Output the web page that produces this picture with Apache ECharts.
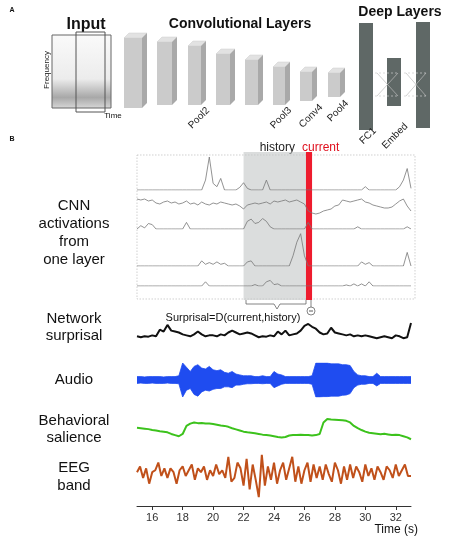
<!DOCTYPE html>
<html><head><meta charset="utf-8">
<script src="https://cdn.jsdelivr.net/npm/echarts@6/dist/echarts.min.js"></script>
<style>html,body{margin:0;padding:0;background:#fff}#c{width:474px;height:544px}</style>
</head><body><div id="c"></div>
<script>
// time grid: 15 .. 33 s, step 0.25 s
const T0 = 15, STEP = 0.25;
const tickLabels = [16,18,20,22,24,26,28,30,32];
const cnn1 = [0,0,0,0,0,0,0,0,0,0, 0,0,0,0,0,0,0,0,0.3,1.0, 0.2,0.1,0.35,0,0,0,0,0.08,0.22,0.05, 0,0,0,0,0.3,0,0,0,0,0, 0,0,0,0,0,0,0,0,0,0, 0,0,0,0,0,0,0,0,0,0, 0.1,0,0,0,0,0,0,0,0,0.1, 0.3,0.65,0.05];
const cnn2 = [0.85,0.8,0.85,0.75,0.8,0.65,0.6,0.7,0.75,0.65, 0.7,0.6,0.65,0.75,0.6,0.65,0.55,0.7,0.6,0.55, 0.65,0.6,0.7,0.65,0.6,0.55,0.6,0.5,0.35,0.55, 0.6,0.65,0.6,0.65,0.7,0.6,0.75,0.7,0.75,0.8, 0.7,0.75,0.8,0.7,0.6,0.25,0.15,0.1,0.15,0.25, 0.3,0.35,0.5,0.55,0.8,0.75,0.7,0.75,0.8,0.85, 0.7,0.65,0.55,0.5,0.45,0.4,0.4,0.45,0.6,0.75, 0.85,0.5,0.25];
const cnn3 = [0,0.3,0.1,0.5,0.4,0,0,0,0,0, 0,0,0,0.6,0,0,0,0,0,0, 0,0,0,0,0,0,0,0,0,0.7, 0.9,0.5,0.6,0.95,0.7,0.2,0,0,0,0, 0,0,0,0,0,0.6,0,0,0,0, 0,0,0,0,0,0,0,0,0.2,0, 0,0,0,0,0,0,0,0,0,0, 0,0.2,0];
const cnn4 = [0,0,0,0,0,0,0,0,0,0, 0,0,0,0,0,0,0,0.15,0.05,0.1, 0.05,0.12,0.05,0.08,0,0,0,0,0,0.12, 0.15,0,0,0,0,0,0,0,0,0, 0,0.3,0.7,0.95,0.3,0,0,0,0,0, 0,0,0,0,0,0,0,0,0,0.12, 0.05,0.1,0,0,0,0,0,0,0,0, 0,0.4,0];
const cnn5 = [0,0,0,0,0,0,0,0,0,0, 0,0,0,0,0,0,0,0,0.6,0, 0,0,0,0,0,0,0,0,0,0, 0,0.2,0,0,0.6,0.8,0.2,0.3,0,0, 0,0,0,0,0,0,0,0,0,0, 0,0,0,0,0,0.15,0,0.3,0,0.3, 0,0.6,0,0,0,0,0,0,0,0, 0,0,0];
const surprisal = [0.3,0.25,0.3,0.28,0.35,0.3,0.65,0.55,0.9,0.6, 0.55,0.5,0.4,0.35,0.3,0.4,0.55,0.4,0.3,0.35, 0.35,0.3,0.4,0.35,0.5,0.6,0.5,0.4,0.45,0.5, 0.45,0.35,0.25,0.3,0.28,0.35,0.3,0.55,0.4,0.6, 0.35,0.4,0.45,0.6,0.85,0.95,0.8,0.7,0.5,0.4, 0.45,0.75,0.5,0.45,0.4,0.35,0.4,0.3,0.35,0.3, 0.35,0.3,0.25,0.2,0.25,0.3,0.25,0.2,0.35,0.3, 0.2,0.25,1.0];
const audioUp = [0.2,0.2,0.18,0.2,0.2,0.2,0.2,0.18,0.2,0.2, 0.2,0.25,1.0,0.75,0.5,0.8,0.9,0.7,0.65,0.8, 0.6,0.55,0.6,0.45,0.4,0.5,0.35,0.3,0.25,0.25, 0.25,0.2,0.2,0.25,0.2,0.2,0.5,0.35,0.3,0.2, 0.2,0.2,0.2,0.2,0.2,0.2,0.25,1.0,1.0,1.0, 1.0,0.95,0.95,0.95,0.9,0.9,0.85,0.5,0.3,0.25, 0.25,0.2,0.2,0.4,0.2,0.2,0.2,0.2,0.2,0.2, 0.2,0.2,0.2];
const audioDown = [-0.2,-0.18,-0.2,-0.2,-0.18,-0.2,-0.2,-0.2,-0.18,-0.2, -0.2,-0.22,-1.0,-0.6,-0.5,-0.85,-0.95,-0.7,-0.6,-0.65, -0.55,-0.5,-0.5,-0.4,-0.4,-0.45,-0.3,-0.3,-0.25,-0.22, -0.22,-0.2,-0.2,-0.22,-0.2,-0.2,-0.45,-0.35,-0.25,-0.2, -0.2,-0.2,-0.2,-0.2,-0.2,-0.2,-0.25,-1.0,-1.0,-0.98, -0.98,-0.95,-0.95,-0.95,-0.9,-0.88,-0.8,-0.45,-0.3,-0.25, -0.25,-0.2,-0.2,-0.35,-0.2,-0.2,-0.2,-0.2,-0.2,-0.2, -0.2,-0.2,-0.2];
const salience = [0.62,0.6,0.58,0.56,0.52,0.5,0.47,0.45,0.42,0.35, 0.3,0.25,0.35,0.7,0.8,0.85,0.82,0.83,0.8,0.8, 0.78,0.75,0.72,0.7,0.66,0.6,0.55,0.5,0.45,0.42, 0.4,0.38,0.35,0.32,0.3,0.28,0.25,0.22,0.2,0.22, 0.28,0.3,0.3,0.32,0.3,0.3,0.28,0.3,0.35,0.85, 1.0,0.98,0.97,0.96,0.95,0.92,0.85,0.7,0.6,0.52, 0.45,0.4,0.38,0.36,0.34,0.36,0.33,0.3,0.32,0.3, 0.25,0.2,0.12];
// EEG sampled every 0.2 s
const EEG_STEP = 0.2;
const eeg = [0.1,0.4,-0.2,0.3,-0.5,0.1,0.2,0.6,-0.1,0.3, -0.2,0.3,0.1,-0.5,0.2,0.4,-0.1,0.2,0.5,-0.3, 0.3,0.1,0.4,-0.3,0.2,-0.1,0.5,0.0,0.2,-0.2, 0.9,-0.4,-0.2,0.6,0.3,-0.6,0.8,-0.8,0.5,-0.3, -1.2,1.0,-0.6,0.4,-0.3,0.6,-0.5,0.2,0.6,-0.3, 0.3,0.9,-0.4,0.4,-0.5,0.2,0.6,-0.4,0.5,-0.2, 0.4,-0.3,0.5,0.0,-0.4,0.6,0.2,-0.5,0.4,-0.3, 0.5,-0.2,0.4,0.1,-0.4,0.5,-0.1,0.3,-0.3,0.4, 0.1,-0.3,0.4,0.2,-0.2,0.5,-0.1,0.2,0.5,-0.1, -0.1];
const historyRange = [22, 26.1];
const currentRange = [26.1, 26.5];

const pairs = (arr, step) => arr.map((v, i) => [T0 + i * step, v]);

const L = 137, R = 474 - 411;
const gridDefs = [
  {top:152, height:148},
  {top:157, height:33, ymin:0, ymax:1},
  {top:196, height:20, ymin:0, ymax:1},
  {top:218, height:11, ymin:0, ymax:1},
  {top:232, height:34, ymin:0, ymax:1},
  {top:279, height:7, ymin:0, ymax:1},
  {top:323, height:19, ymin:0, ymax:1},
  {top:363, height:34, ymin:-1, ymax:1},
  {top:419, height:23, ymin:0, ymax:1},
  {top:453, height:46, ymin:-1.3, ymax:1.1},
  {top:500, height:6, ymin:0, ymax:1}
];
const grid = gridDefs.map(g => ({left:L, right:R, top:g.top, height:g.height}));
const xAxis = gridDefs.map((g, i) => {
  const last = i === gridDefs.length - 1;
  return {type:'value', gridIndex:i, min:15, max:33, show:last,
    splitLine:{show:false},
    axisLine:{show:last, onZero:false, lineStyle:{color:'#333', width:1}},
    axisTick:{show:last, inside:false, length:4, customValues:tickLabels, lineStyle:{color:'#333'}},
    axisLabel:{show:last, customValues:tickLabels, color:'#333', fontSize:11, margin:6, fontFamily:'Liberation Sans'}};
});
const yAxis = gridDefs.map((g, i) => ({type:'value', gridIndex:i, show:false,
  min: g.ymin !== undefined ? g.ymin : 0, max: g.ymax !== undefined ? g.ymax : 1, splitLine:{show:false}}));

const traceStyle = (color, w) => ({type:'line', showSymbol:false, smooth:false, z:3,
  lineStyle:{color:color, width:w}, itemStyle:{color:color}});
const series = [
  {type:'line', xAxisIndex:0, yAxisIndex:0, data:[], z:1,
   markArea:{silent:true, label:{show:false}, data:[
     [{xAxis:historyRange[0], itemStyle:{color:'rgba(195,199,199,0.6)'}}, {xAxis:historyRange[1]}],
     [{xAxis:currentRange[0], itemStyle:{color:'#ee1c2e'}}, {xAxis:currentRange[1]}]
   ]}},
  Object.assign(traceStyle('#777',0.8), {xAxisIndex:1, yAxisIndex:1, data:pairs(cnn1, STEP)}),
  Object.assign(traceStyle('#777',0.8), {xAxisIndex:2, yAxisIndex:2, data:pairs(cnn2, STEP)}),
  Object.assign(traceStyle('#777',0.8), {xAxisIndex:3, yAxisIndex:3, data:pairs(cnn3, STEP)}),
  Object.assign(traceStyle('#777',0.8), {xAxisIndex:4, yAxisIndex:4, data:pairs(cnn4, STEP)}),
  Object.assign(traceStyle('#777',0.8), {xAxisIndex:5, yAxisIndex:5, data:pairs(cnn5, STEP)}),
  Object.assign(traceStyle('#111',2), {xAxisIndex:6, yAxisIndex:6, data:pairs(surprisal, STEP)}),
  Object.assign(traceStyle('#1f4cf0',0.8), {xAxisIndex:7, yAxisIndex:7, data:pairs(audioUp, STEP), areaStyle:{color:'#1f4cf0', opacity:1, origin:0}}),
  Object.assign(traceStyle('#1f4cf0',0.8), {xAxisIndex:7, yAxisIndex:7, data:pairs(audioDown, STEP), areaStyle:{color:'#1f4cf0', opacity:1, origin:0}}),
  Object.assign(traceStyle('#3cc21c',2), {xAxisIndex:8, yAxisIndex:8, data:pairs(salience, STEP)}),
  Object.assign(traceStyle('#c0501a',2), {xAxisIndex:9, yAxisIndex:9, data:pairs(eeg, EEG_STEP)})
];

const F = 'Liberation Sans';
const g = [];
const txt = (x, y, s, o) => g.push({type:'text', x, y, style:Object.assign({text:s, fill:'#111', font:'14px '+F, textAlign:'center', textVerticalAlign:'middle'}, o||{})});
txt(12, 10, 'A', {font:'bold 7px '+F});
txt(12, 139, 'B', {font:'bold 7px '+F});
txt(86, 25, 'Input', {font:'bold 16px '+F});
txt(240, 24, 'Convolutional Layers', {font:'bold 14px '+F});
txt(400, 12, 'Deep Layers', {font:'bold 14px '+F});
txt(295, 148, 'history', {font:'12px '+F, fill:'#222', textAlign:'right'});
txt(302, 148, 'current', {font:'12px '+F, fill:'#e0101e', textAlign:'left'});
g.push({type:'rect', shape:{x:52, y:35, width:59, height:73}, style:{fill:{type:'linear', x:0,y:0,x2:0,y2:1, colorStops:[{offset:0,color:'#fafafa'},{offset:0.6,color:'#ececec'},{offset:0.85,color:'#a8a8a8'},{offset:1,color:'#d8d8d8'}]}, stroke:'#666', lineWidth:1}});
g.push({type:'rect', shape:{x:76, y:32, width:29, height:80}, style:{fill:null, stroke:'#555', lineWidth:1}});
g.push({type:'text', x:47, y:70, rotation:Math.PI/2, style:{text:'Frequency', font:'8px '+F, fill:'#222', textAlign:'center', textVerticalAlign:'middle'}});
txt(113, 116, 'Time', {font:'8px '+F});
const boxes = [[124,38,18,108],[157,42,15,105],[188,46,13,105],[216,54,14,105],[245,60,13,105],[273,67,12,105],[300,72,12,101],[328,73,12,97]];
boxes.forEach(b => {
  const [x,y,w,bot] = b, d = 5;
  g.push({type:'polygon', shape:{points:[[x,y],[x+d,y-d],[x+w+d,y-d],[x+w,y]]}, style:{fill:'#e2e2e2', stroke:'#ccc', lineWidth:0.5}});
  g.push({type:'polygon', shape:{points:[[x+w,y],[x+w+d,y-d],[x+w+d,bot-d],[x+w,bot]]}, style:{fill:'#a9a9a9'}});
  g.push({type:'rect', shape:{x, y, width:w, height:bot-y}, style:{fill:'#cbcbcb'}});
});
[[359,23,14,107],[387,58,14,48],[416,22,14,106]].forEach(b => g.push({type:'rect', shape:{x:b[0], y:b[1], width:b[2], height:b[3]}, style:{fill:'#5f6866'}}));
[[375,400],[404,428]].forEach(p => {
  g.push({type:'line', shape:{x1:p[0]+2,y1:73,x2:p[1]-2,y2:96}, style:{stroke:'#bbb', lineWidth:0.7}});
  g.push({type:'line', shape:{x1:p[0]+2,y1:96,x2:p[1]-2,y2:73}, style:{stroke:'#bbb', lineWidth:0.7}});
  g.push({type:'line', shape:{x1:p[0],y1:73,x2:p[1]-2,y2:73}, style:{stroke:'#ccc', lineWidth:0.7, lineDash:[2,2]}});
  g.push({type:'line', shape:{x1:p[0],y1:96,x2:p[1]-2,y2:96}, style:{stroke:'#ccc', lineWidth:0.7, lineDash:[2,2]}});
});
[['Pool2',199,118],['Pool3',281,118],['Conv4',311,116],['Pool4',338,111],['FC1',368,136],['Embed',395,136]].forEach(l =>
  g.push({type:'text', x:l[1], y:l[2], rotation:Math.PI/4, style:{text:l[0], font:'10px '+F, fill:'#222', textAlign:'center', textVerticalAlign:'middle'}}));
g.push({type:'rect', shape:{x:137, y:155, width:278, height:144}, style:{fill:null, stroke:'#bbb', lineWidth:0.7, lineDash:[1.5,1.5]}, z:-1});
g.push({type:'polyline', shape:{points:[[246,300],[246,304],[274,304],[277,309],[280,304],[306,304],[306,300]]}, style:{stroke:'#666', fill:null, lineWidth:0.8}});
g.push({type:'circle', shape:{cx:311, cy:311, r:4}, style:{fill:'#fff', stroke:'#666', lineWidth:0.8}});
g.push({type:'line', shape:{x1:309, y1:311, x2:313, y2:311}, style:{stroke:'#333', lineWidth:0.8}});
g.push({type:'line', shape:{x1:311, y1:300, x2:311, y2:307}, style:{stroke:'#666', lineWidth:0.8}});
txt(233, 318, 'Surprisal=D(current,history)', {font:'11px '+F});
['CNN','activations','from','one layer'].forEach((s,i) => txt(74, 206+i*18, s, {font:'15px '+F}));
txt(74, 319, 'Network', {font:'15px '+F}); txt(74, 336, 'surprisal', {font:'15px '+F});
txt(74, 380, 'Audio', {font:'15px '+F});
txt(74, 421, 'Behavioral', {font:'15px '+F}); txt(74, 438, 'salience', {font:'15px '+F});
txt(74, 468, 'EEG', {font:'15px '+F}); txt(74, 486, 'band', {font:'15px '+F});
txt(418, 530, 'Time (s)', {font:'12px '+F, textAlign:'right'});

const chart = echarts.init(document.getElementById('c'), null, {renderer:'canvas'});
chart.setOption({animation:false, backgroundColor:'#fff', grid, xAxis, yAxis, series, graphic:{elements:g}});
</script></body></html>
